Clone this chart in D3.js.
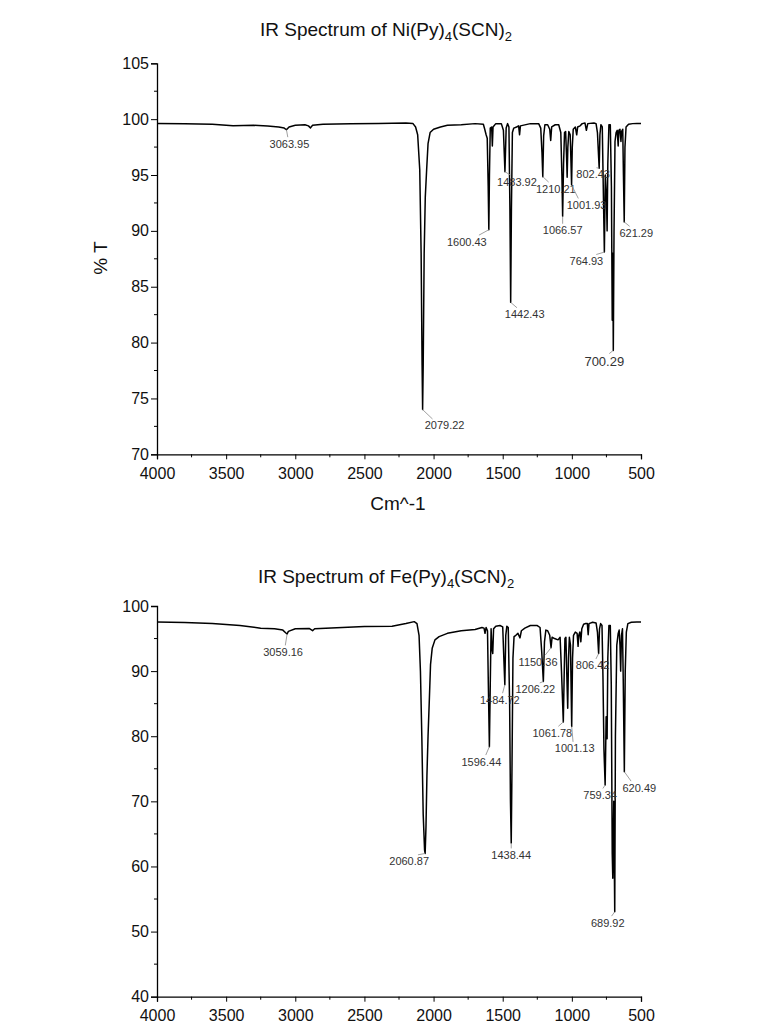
<!DOCTYPE html>
<html>
<head>
<meta charset="utf-8">
<script src="https://cdn.jsdelivr.net/npm/d3@7"></script>
<style>
  body { margin: 0; background: #fff; }
  svg text { font-family: "Liberation Sans", Arial, sans-serif; }
</style>
</head>
<body>
<div id="chart"></div>
<script>
// Ni(Py)4(SCN)2 trace: [wavenumber, %T]
const niSpectrum = [
  [4000, 99.62], [3800, 99.6], [3600, 99.55], [3450, 99.42], [3300, 99.45], [3200, 99.38],
  [3120, 99.3], [3080, 99.2], [3064, 99.05], [3045, 99.3], [3000, 99.45], [2930, 99.5],
  [2905, 99.4], [2890, 99.22], [2875, 99.45], [2800, 99.55], [2600, 99.58], [2400, 99.62],
  [2200, 99.65], [2150, 99.62], [2130, 99.3], [2115, 98.6], [2100, 95.5], [2090, 88],
  [2083, 78], [2079.2, 74.0], [2075, 78], [2068, 88], [2060, 93], [2050, 95.5], [2040, 97.8],
  [2025, 98.8], [2000, 99.1], [1950, 99.3], [1900, 99.45], [1800, 99.5], [1700, 99.6],
  [1640, 99.55], [1630, 99.1], [1620, 98.6], [1612, 98.3], [1605, 94], [1600.4, 90.1],
  [1596, 95], [1590, 99.2], [1580, 99.3], [1575, 97.6], [1570, 99.3], [1550, 99.6],
  [1510, 99.6], [1495, 99.0], [1483.9, 95.3], [1475, 99.2], [1465, 99.6], [1455, 99.3],
  [1448, 92], [1442.4, 83.6], [1437, 92], [1430, 98.8], [1420, 99.2], [1400, 99.3],
  [1385, 99.4], [1378, 98.6], [1372, 99.4], [1300, 99.6], [1240, 99.6], [1225, 99.2],
  [1216, 97], [1210.2, 94.85], [1204, 98.5], [1195, 99.5], [1175, 99.5], [1160, 99.1],
  [1153, 98.1], [1146, 99.3], [1120, 99.5], [1095, 99.5], [1080, 98.8], [1072, 95],
  [1066.6, 91.3], [1060, 96], [1053, 98.8], [1045, 98.9], [1038, 96.5], [1034, 94.8],
  [1029, 97.5], [1022, 98.9], [1012, 98.6], [1006, 96], [1001.9, 94.1], [997, 97.5],
  [990, 99.1], [975, 99.3], [965, 98.6], [958, 99.3], [940, 99.4], [925, 99.6], [905, 99.65],
  [895, 99.0], [885, 99.6], [840, 99.65], [825, 99.6], [815, 98.8], [806, 96.5],
  [802.4, 95.6], [797, 98.6], [790, 99.5], [780, 99.3], [773, 94], [764.9, 88.1], [758, 95],
  [750, 93], [745, 90.0], [740, 96], [732, 99.5], [722, 99.5], [714, 94], [708, 82],
  [704, 88], [700.3, 79.3], [695, 90], [688, 98], [680, 98.8], [672, 99], [665, 97.6],
  [660, 99], [652, 99.1], [645, 98], [640, 98.9], [632, 99.1], [627, 95], [621.3, 90.8],
  [616, 97.5], [608, 99.3], [590, 99.55], [560, 99.6], [530, 99.62], [500, 99.62]
];

// Fe(Py)4(SCN)2 trace: [wavenumber, %T]
const feSpectrum = [
  [4000, 97.55], [3800, 97.45], [3600, 97.3], [3400, 97.0], [3250, 96.6], [3150, 96.5],
  [3090, 96.3], [3070, 95.9], [3059.2, 95.7], [3050, 96.1], [3000, 96.5], [2900, 96.55],
  [2875, 96.2], [2860, 96.5], [2700, 96.65], [2500, 96.85], [2300, 96.9], [2200, 97.3],
  [2140, 97.6], [2120, 97.3], [2105, 95.5], [2095, 90], [2085, 80], [2075, 68], [2065, 62.5],
  [2060.9, 62.0], [2055, 66], [2048, 74], [2040, 80], [2030, 86], [2022, 91], [2010, 93.5],
  [1990, 94.8], [1960, 95.3], [1900, 95.8], [1800, 96.2], [1700, 96.4], [1650, 96.7],
  [1635, 96.6], [1628, 95.8], [1620, 96.7], [1610, 96.2], [1604, 88], [1596.4, 78.4],
  [1590, 88], [1584, 96.5], [1578, 93.5], [1572, 92.7], [1566, 96.5], [1550, 96.9],
  [1520, 97.0], [1500, 96.8], [1492, 92], [1484.7, 87.9], [1478, 95.5], [1470, 96.9],
  [1460, 96.7], [1450, 85], [1444, 70], [1438.4, 63.6], [1433, 75], [1426, 92], [1418, 95.3],
  [1405, 95.5], [1390, 95.8], [1375, 95.1], [1365, 96.2], [1340, 96.6], [1300, 97.0],
  [1250, 97.0], [1230, 96.7], [1218, 93], [1206.2, 88.4], [1198, 94.5], [1188, 96.3],
  [1175, 96.2], [1160, 95.5], [1150.4, 93.6], [1143, 95.2], [1125, 95.0], [1100, 94.8],
  [1085, 95.2], [1075, 90], [1061.8, 82.2], [1055, 90], [1050, 95], [1043, 95.2], [1036, 89],
  [1030, 84.3], [1024, 92], [1018, 95.2], [1010, 94], [1001.1, 81.5], [995, 92], [988, 95.5],
  [975, 96], [962, 95.8], [955, 93.8], [950, 95.5], [942, 96.0], [935, 94.5], [928, 96.5],
  [915, 97.2], [900, 97.3], [888, 97.3], [882, 95.6], [876, 97.3], [850, 97.5], [825, 97.4],
  [815, 96], [806.4, 92.7], [800, 96.5], [792, 97.3], [782, 97], [775, 89], [768, 78],
  [759.3, 72.5], [752, 83], [745, 79.6], [740, 92], [732, 97.0], [722, 97.0], [715, 88],
  [708, 62], [704, 58.2], [697, 70], [689.9, 53.05], [685, 80], [675, 94], [665, 95.8],
  [658, 96.3], [652, 94], [647, 90], [641, 95.5], [634, 96.5], [628, 88], [620.5, 74.55],
  [614, 90], [606, 96], [595, 97.3], [570, 97.5], [530, 97.55], [500, 97.55]
];

// labelled peaks: [wavenumber, %T at tip]
const niPeaks = [
  [3063.95, 99.05], [2079.22, 74.0], [1600.43, 90.1], [1483.92, 95.3], [1442.43, 83.6],
  [1210.21, 94.85], [1066.57, 91.3], [1001.93, 94.1], [802.43, 95.6], [764.93, 88.1],
  [700.29, 79.3], [621.29, 90.8]
];
const fePeaks = [
  [3059.16, 95.7], [2060.87, 62.0], [1596.44, 78.4], [1484.72, 87.9], [1438.44, 63.6],
  [1206.22, 88.4], [1150.36, 93.6], [1061.78, 82.2], [1001.13, 81.5], [806.42, 92.7],
  [759.34, 72.5], [689.92, 53.05], [620.49, 74.55]
];

// annotation layout: label centre offset from peak tip [dx, dy], font size
const niLabelLayout = [
  [3, 14, 11], [22, 16, 11], [-22, 12, 11], [12, 10, 11], [14, 12, 11],
  [13, 12, 11], [0, 14, 11], [15, 20, 11], [-6, 6, 11], [-18, 9, 11],
  [-9, 11, 13], [12, 11, 11]
];
const feLabelLayout = [
  [-4, 18, 11], [-16, 8, 11], [-8, 15, 11], [-5, 15, 11], [0, 12, 11],
  [-8, 8, 11], [-13, 14, 11], [-11, 11, 11], [3, 22, 11], [-6, 12, 11],
  [-5, 10, 11], [-7, 11, 11], [15, 16, 11]
];

const xTicks = [4000, 3500, 3000, 2500, 2000, 1500, 1000, 500];

const width = 768, height = 1024;
const svg = d3.select("#chart").append("svg")
  .attr("width", width)
  .attr("height", height);

function title(y, metal) {
  const t = svg.append("text")
    .attr("x", 386).attr("y", y)
    .attr("text-anchor", "middle")
    .attr("font-size", "19px")
    .attr("fill", "#111");
  t.append("tspan").text(`IR Spectrum of ${metal}(Py)`);
  t.append("tspan").attr("dy", 5).attr("font-size", "13px").text("4");
  t.append("tspan").attr("dy", -5).text("(SCN)");
  t.append("tspan").attr("dy", 5).attr("font-size", "13px").text("2");
}

function drawPanel({ top, bottom, yDomain, yMajor, yMinorStep, spectrum, peaks, layout }) {
  const x = d3.scaleLinear().domain([4000, 500]).range([157, 641]);
  const y = d3.scaleLinear().domain(yDomain).range([bottom, top]);
  const g = svg.append("g");

  // minor ticks
  const xMinor = d3.range(3750, 500, -500);
  g.append("g").selectAll("line").data(xMinor).join("line")
    .attr("x1", (d) => x(d)).attr("x2", (d) => x(d))
    .attr("y1", bottom).attr("y2", bottom + 3)
    .attr("stroke", "#000").attr("stroke-width", 1);
  const yMinor = d3.range(yDomain[0] + yMinorStep, yDomain[1], yMinorStep * 2);
  g.append("g").selectAll("line").data(yMinor).join("line")
    .attr("x1", 154).attr("x2", 157)
    .attr("y1", (d) => y(d)).attr("y2", (d) => y(d))
    .attr("stroke", "#000").attr("stroke-width", 1);

  g.append("g")
    .attr("transform", `translate(0,${bottom})`)
    .call(d3.axisBottom(x).tickValues(xTicks).tickSize(5).tickPadding(8).tickFormat(d3.format("d")))
    .call((a) => a.select(".domain").attr("stroke-width", 1.3))
    .call((a) => a.selectAll("text").attr("font-size", "16px").attr("fill", "#111")
      .attr("font-family", "Liberation Sans, Arial, sans-serif"));

  g.append("g")
    .attr("transform", "translate(157,0)")
    .call(d3.axisLeft(y).tickValues(yMajor).tickSize(6).tickPadding(2))
    .call((a) => a.select(".domain").attr("stroke-width", 1.3))
    .call((a) => a.selectAll("text").attr("font-size", "16px").attr("fill", "#111")
      .attr("font-family", "Liberation Sans, Arial, sans-serif"));

  const line = d3.line().x((d) => x(d[0])).y((d) => y(d[1]));
  g.append("path")
    .attr("d", line(spectrum))
    .attr("fill", "none")
    .attr("stroke", "#000")
    .attr("stroke-width", 1.5)
    .attr("stroke-linejoin", "round");

  // peak annotations
  peaks.forEach((p, i) => {
    const [dx, dy, fs] = layout[i];
    const px = x(p[0]), py = y(p[1]);
    const lx = px + dx, ly = py + dy;
    g.append("line")
      .attr("x1", px).attr("y1", py)
      .attr("x2", px + dx * 0.45).attr("y2", ly - fs * 0.6)
      .attr("stroke", "#888").attr("stroke-width", 0.8);
    g.append("text")
      .attr("x", lx).attr("y", ly + fs * 0.35)
      .attr("text-anchor", "middle")
      .attr("font-size", fs + "px")
      .attr("fill", "#333")
      .text(d3.format(".2f")(p[0]));
  });
}

title(36, "Ni");
drawPanel({
  top: 63.3, bottom: 454.3, yDomain: [70, 105],
  yMajor: d3.range(70, 106, 5), yMinorStep: 2.5,
  spectrum: niSpectrum, peaks: niPeaks, layout: niLabelLayout
});

svg.append("text")
  .attr("transform", "translate(107,258) rotate(-90)")
  .attr("text-anchor", "middle")
  .attr("font-size", "19px")
  .attr("fill", "#111")
  .text("% T");

svg.append("text")
  .attr("x", 398).attr("y", 510)
  .attr("text-anchor", "middle")
  .attr("font-size", "19px")
  .attr("fill", "#111")
  .text("Cm^-1");

title(583, "Fe");
drawPanel({
  top: 606, bottom: 996.7, yDomain: [40, 100],
  yMajor: d3.range(40, 101, 10), yMinorStep: 5,
  spectrum: feSpectrum, peaks: fePeaks, layout: feLabelLayout
});
</script>
</body>
</html>
